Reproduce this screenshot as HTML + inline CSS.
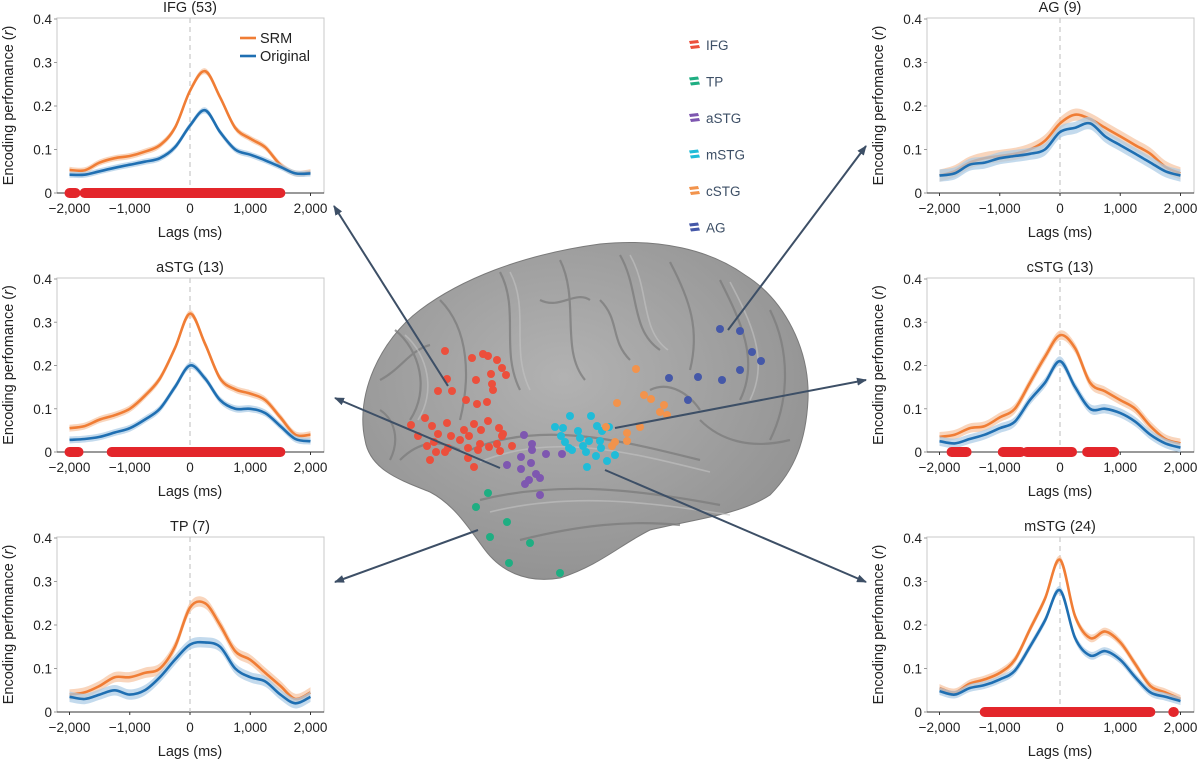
<!DOCTYPE html>
<html><head><meta charset="utf-8"><style>
html,body{margin:0;padding:0;background:#fff;}
svg{display:block;font-family:"Liberation Sans",sans-serif;}
</style></head><body>
<svg id="fig" width="1200" height="762" viewBox="0 0 1200 762">
<defs>
<marker id="ah" markerWidth="10" markerHeight="8" refX="9" refY="4" orient="auto" markerUnits="userSpaceOnUse">
<path d="M0,0 L10,4 L0,8 Z" fill="#3d4f66"/></marker>
<radialGradient id="bg" cx="0.45" cy="0.4" r="0.7"><stop offset="0" stop-color="#b2b2b2"/><stop offset="1" stop-color="#8e8e8e"/></radialGradient>
</defs>
<g id="brain">
<path d="M365,440 C355,395 380,340 420,310 C460,280 520,255 600,244 C660,238 710,250 745,275 C785,300 810,350 808,400 C806,440 795,470 770,495 C740,515 690,520 650,530 C620,545 600,565 560,578 C525,584 500,570 485,550 C470,530 455,505 430,492 C400,480 370,470 365,440 Z" fill="url(#bg)" stroke="#7a7a7a" stroke-width="1"/>
<g fill="none" stroke="#7c7c7c" stroke-width="2.2" opacity="0.75">
<path d="M395,330 C420,350 430,390 410,420"/><path d="M440,300 C470,330 470,380 460,420"/>
<path d="M500,272 C520,310 500,350 520,390"/><path d="M560,260 C580,300 560,350 585,380"/>
<path d="M620,255 C640,290 630,330 660,350"/><path d="M670,262 C690,300 700,330 690,370"/>
<path d="M720,280 C740,320 760,360 740,400"/><path d="M770,310 C790,350 790,400 770,440"/>
<path d="M470,450 C540,420 620,440 700,460"/><path d="M480,500 C560,480 640,490 720,505"/>
<path d="M520,540 C580,525 630,520 680,525"/><path d="M400,460 C420,440 440,440 460,450"/>
<path d="M380,380 C400,370 410,350 430,345"/><path d="M600,300 C620,320 610,340 630,360"/>
<path d="M700,420 C720,440 750,450 790,440"/><path d="M380,410 C395,420 400,440 390,460"/>
<path d="M540,300 C560,310 575,290 590,300"/><path d="M650,390 C670,380 690,395 700,410"/>
</g>
<g fill="none" stroke="#c4c4c4" stroke-width="1.6" opacity="0.6">
<path d="M405,335 C428,355 436,392 418,420"/><path d="M510,272 C530,310 510,350 530,390"/>
<path d="M630,255 C650,290 640,330 668,350"/><path d="M730,282 C750,320 770,360 750,400"/>
<path d="M480,462 C550,432 630,452 710,472"/><path d="M490,512 C570,492 650,502 730,515"/>
</g>
</g>
<g id="electrodes"></g>
<g id="legend"></g>
<g id="arrows" stroke="#3d4f66" stroke-width="2" fill="none">
<line x1="448" y1="386" x2="334" y2="206" marker-end="url(#ah)"/>
<line x1="728" y1="330" x2="866" y2="146" marker-end="url(#ah)"/>
<line x1="500" y1="468" x2="335" y2="398" marker-end="url(#ah)"/>
<line x1="615" y1="428" x2="866" y2="380" marker-end="url(#ah)"/>
<line x1="478" y1="530" x2="335" y2="582" marker-end="url(#ah)"/>
<line x1="605" y1="470" x2="866" y2="582" marker-end="url(#ah)"/>
</g>
<g id="panels"></g>
</svg>
<script>
const lags = [-2000,-1750,-1500,-1250,-1000,-750,-500,-250,0,250,500,750,1000,1250,1500,1750,2000];
const yTicks = [0,0.1,0.2,0.3,0.4];
const yTickLabels = ["0","0.1","0.2","0.3","0.4"];
const xTicks = [-2000,-1000,0,1000,2000];
const xTickLabels = ["\u22122,000","\u22121,000","0","1,000","2,000"];
const titles = ["IFG (53)","aSTG (13)","TP (7)","AG (9)","cSTG (13)","mSTG (24)"];
const srmIFG = [.053,.052,.07,.08,.085,.095,.11,.15,.235,.28,.22,.15,.125,.105,.065,.045,.048];
const origIFG = [.042,.042,.05,.058,.065,.072,.08,.105,.155,.19,.14,.1,.088,.075,.06,.045,.045];
const srmASTG = [.055,.06,.075,.085,.1,.13,.17,.24,.32,.25,.17,.145,.135,.12,.08,.04,.04];
const origASTG = [.028,.03,.035,.045,.055,.075,.1,.15,.2,.17,.12,.1,.1,.09,.06,.03,.025];
const srmTP = [.04,.045,.06,.08,.08,.09,.1,.15,.24,.25,.2,.14,.12,.09,.06,.03,.045];
const origTP = [.035,.03,.04,.05,.04,.05,.08,.12,.155,.16,.15,.1,.08,.07,.04,.02,.035];
const srmAG = [.04,.05,.07,.08,.085,.09,.1,.12,.16,.18,.17,.15,.13,.11,.09,.06,.045];
const origAG = [.04,.045,.065,.07,.08,.085,.09,.1,.14,.15,.16,.13,.11,.09,.07,.05,.04];
const srmCSTG = [.035,.04,.055,.06,.08,.1,.16,.22,.27,.24,.16,.14,.12,.1,.06,.03,.02];
const origCSTG = [.025,.02,.03,.04,.055,.07,.12,.16,.21,.15,.1,.1,.09,.07,.04,.02,.01];
const srmMSTG = [.055,.045,.065,.075,.09,.12,.19,.26,.35,.22,.17,.185,.16,.11,.06,.045,.03];
const origMSTG = [.048,.04,.055,.062,.075,.095,.15,.21,.28,.17,.13,.14,.12,.08,.045,.035,.025];
const sigIFG = [[-2000,-1900],[-1750,1500]];
const sigASTG = [[-2000,-1850],[-1300,1500]];
const sigTP = [];
const sigAG = [];
const sigCSTG = [[-1800,-1550],[-950,-650],[-550,200],[450,900]];
const sigMSTG = [[-1250,1500],[1880,1890]];

const NS="http://www.w3.org/2000/svg";
function mk(tag,attrs,parent){const e=document.createElementNS(NS,tag);for(const k in attrs)e.setAttribute(k,attrs[k]);parent.appendChild(e);return e;}

const panelDefs=[
 {left:57,top:18,bottom:193,title:titles[0],srm:srmIFG,orig:origIFG,sig:sigIFG,legend:true,key:"ifg",bw:0.007},
 {left:57,top:278,bottom:452,title:titles[1],srm:srmASTG,orig:origASTG,sig:sigASTG,key:"astg",bw:0.008},
 {left:57,top:537,bottom:712,title:titles[2],srm:srmTP,orig:origTP,sig:sigTP,key:"tp",bw:0.012},
 {left:927,top:18,bottom:193,title:titles[3],srm:srmAG,orig:origAG,sig:sigAG,key:"ag",bw:0.014},
 {left:927,top:278,bottom:452,title:titles[4],srm:srmCSTG,orig:origCSTG,sig:sigCSTG,key:"cstg",bw:0.011},
 {left:927,top:537,bottom:712,title:titles[5],srm:srmMSTG,orig:origMSTG,sig:sigMSTG,key:"mstg",bw:0.009}];

function smooth(pts){let d="M"+pts[0][0]+","+pts[0][1];
 for(let i=0;i<pts.length-1;i++){const p0=pts[Math.max(0,i-1)],p1=pts[i],p2=pts[i+1],p3=pts[Math.min(pts.length-1,i+2)];
  const c1=[p1[0]+(p2[0]-p0[0])/6,p1[1]+(p2[1]-p0[1])/6],c2=[p2[0]-(p3[0]-p1[0])/6,p2[1]-(p3[1]-p1[1])/6];
  d+=" C"+c1[0].toFixed(1)+","+c1[1].toFixed(1)+" "+c2[0].toFixed(1)+","+c2[1].toFixed(1)+" "+p2[0].toFixed(1)+","+p2[1].toFixed(1);}
 return d;}

const root=document.getElementById("panels");
panelDefs.forEach(p=>{
 const g=mk("g",{},root);
 
 
 const right=p.left+267;
 const x=v=>p.left+12.5+(v+2000)*(241/4000);
 const y=v=>p.bottom-v*(p.bottom-p.top-1)/0.4;
 const box=mk("rect",{x:p.left,y:p.top,width:right-p.left,height:p.bottom-p.top,fill:"none",stroke:"#c8c8c8","stroke-width":1},g);
 
 
 const xa=mk("line",{x1:p.left,x2:right,y1:p.bottom,y2:p.bottom,stroke:"#333","stroke-width":1},g);
 
 
 const zl=mk("line",{x1:x(0),x2:x(0),y1:p.top,y2:p.bottom,stroke:"#c8c8c8","stroke-width":1.2,"stroke-dasharray":"5,4"},g);
 
 
 yTicks.forEach((t,i)=>{
  const tx=mk("text",{x:p.left-5,y:y(t)+5,"text-anchor":"end","font-size":13.5,fill:"#222"},g);tx.textContent=yTickLabels[i];
  
  
  mk("line",{x1:p.left-3,x2:p.left,y1:y(t),y2:y(t),stroke:"#999"},g);
 });
 xTicks.forEach((t,i)=>{
  const tx=mk("text",{x:x(t),y:p.bottom+20,"text-anchor":"middle","font-size":13.5,fill:"#222"},g);tx.textContent=xTickLabels[i];
  
  
  mk("line",{x1:x(t),x2:x(t),y1:p.bottom,y2:p.bottom+3,stroke:"#333"},g);
 });
 const xt=mk("text",{x:x(0),y:p.bottom+44,"text-anchor":"middle","font-size":14.5,fill:"#222"},g);xt.textContent="Lags (ms)";
 
 
 const cy=(p.top+p.bottom)/2, yx=p.left-44;
 const yt=mk("text",{x:yx,y:cy,"text-anchor":"middle","font-size":14.5,fill:"#222",transform:"rotate(-90 "+yx+" "+cy+")"},g);
 yt.innerHTML='Encoding perfomance (<tspan font-style="italic">r</tspan>)';
 
 
 const tt=mk("text",{x:x(0),y:p.top-6,"text-anchor":"middle","font-size":14.5,fill:"#222"},g);tt.textContent=p.title;
 
 
 [[p.srm,"#f07d35","#f6c39f","srm"],[p.orig,"#1f6fb2","#a9cbe6","original"]].forEach(([vals,c,bc,nm])=>{
  const up=lags.map((l,i)=>[x(l),y(vals[i]+p.bw)]), dn=lags.map((l,i)=>[x(l),y(vals[i]-p.bw)]).reverse();
  const band=mk("path",{d:smooth(up)+" L"+smooth(dn).slice(1)+" Z",fill:bc,opacity:0.7},g);
  
  
  const ln=mk("path",{d:smooth(lags.map((l,i)=>[x(l),y(vals[i])])),fill:"none",stroke:c,"stroke-width":2.6},g);
  
  
 });
 p.sig.forEach(s=>{
  const b=mk("line",{x1:x(s[0]),x2:x(s[1]),y1:p.bottom,y2:p.bottom,stroke:"#e3262b","stroke-width":10,"stroke-linecap":"round"},g);
  
  
 });
 if(p.legend){
  [["SRM","#f07d35",38],["Original","#1f6fb2",56]].forEach(([t,c,yy])=>{
   const lg=mk("g",{},g);
   
   
   mk("line",{x1:240,x2:256,y1:yy,y2:yy,stroke:c,"stroke-width":2.6},lg);
   const tx=mk("text",{x:260,y:yy+5,"font-size":14.5,fill:"#222"},lg);tx.textContent=t;
  });
 }
});

const regNames=["IFG","TP","aSTG","mSTG","cSTG","AG"];
const regColors=["#ec4f3c","#1fae82","#7e57b0","#20bcd8","#f2934c","#4558a8"];
const lgRoot=document.getElementById("legend");
regNames.forEach((n,i)=>{
 const yy=45+i*36.5;
 const lg=mk("g",{},lgRoot);
 
 
 mk("path",{d:`M689,${yy-4} l9,-1 l1,3 l-9,1 z M690,${yy+1} l9,-1 l1,3 l-9,1 z`,fill:regColors[i]},lg);
 const t=mk("text",{x:706,y:yy+5,"font-size":13.5,fill:"#3d4f66"},lg);t.textContent=n;
});

const el=document.getElementById("electrodes");
const elecs=[
 [0,[[445,351],[472,358],[483,354],[488,356],[497,360],[491,374],[502,368],[476,380],[492,384],[506,375],[447,379],[438,391],[452,391],[466,400],[487,402],[493,390],[474,424],[488,421],[469,436],[481,430],[502,436],[425,418],[432,426],[447,423],[438,434],[451,436],[464,430],[427,446],[436,452],[448,448],[460,440],[468,448],[480,444],[497,444],[503,434],[411,425],[418,436],[434,442],[430,460],[445,452],[468,458],[489,447],[500,451],[512,446],[474,467],[478,450],[499,428],[477,404]]],
 [1,[[488,493],[476,507],[507,522],[490,537],[530,543],[509,563],[560,573]]],
 [2,[[524,435],[532,444],[532,450],[546,454],[521,457],[507,465],[521,469],[531,463],[536,474],[529,480],[540,478],[540,495],[525,484],[562,454]]],
 [3,[[570,416],[591,416],[597,426],[609,427],[563,428],[578,431],[580,438],[589,441],[600,441],[555,427],[561,436],[565,442],[572,450],[583,446],[601,448],[607,461],[587,467],[569,448],[602,431],[596,456],[615,455],[586,452]]],
 [4,[[636,369],[617,403],[644,395],[651,399],[664,405],[660,412],[667,415],[606,427],[627,433],[640,427],[615,442],[612,446],[627,441]]],
 [5,[[720,329],[740,331],[752,352],[761,361],[740,370],[669,378],[698,377],[722,380],[688,400]]]
];
elecs.forEach(([ci,pts])=>pts.forEach(([ex,ey])=>{
 const c=mk("circle",{cx:ex,cy:ey,r:4,fill:regColors[ci]},el);
 
 
}));
</script>
</body></html>
